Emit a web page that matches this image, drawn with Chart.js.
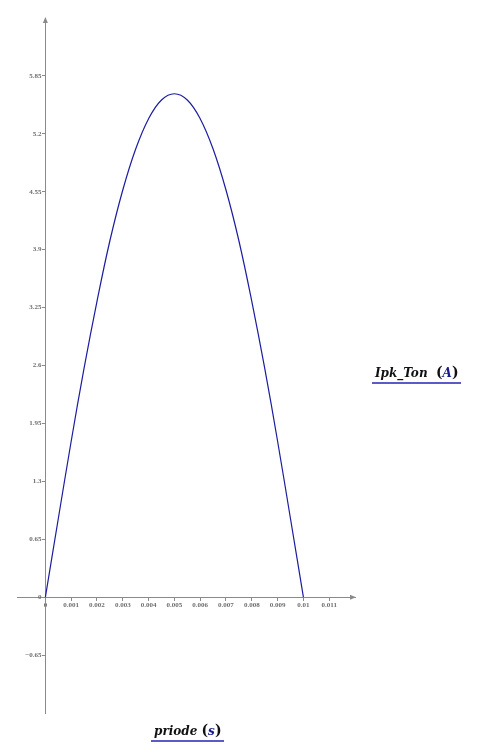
<!DOCTYPE html>
<html>
<head>
<meta charset="utf-8">
<script src="https://cdn.jsdelivr.net/npm/chart.js@4.4.1/dist/chart.umd.min.js"></script>
<style>
  html, body { margin: 0; padding: 0; background: #fff; }
  #wrap { position: relative; width: 478px; height: 748px; }
  .ttl {
    position: absolute;
    font-family: "DejaVu Serif", serif;
    font-style: italic; font-weight: bold; font-size: 12px;
    color: #111; border-bottom: 2px solid #5a5ac8; padding: 0 2px 2px 3px;
    white-space: nowrap;
  }
  .ttl span { font-style: normal; font-size: 14px; }
  .ttl b { color: #1a1a8c; }
</style>
</head>
<body>
<div id="wrap">
  <canvas id="plot" width="478" height="748"></canvas>
  <div class="ttl" style="left:372px; top:364px;">Ipk_Ton&nbsp; <span>(</span><b>A</b><span>)</span></div>
  <div class="ttl" style="left:151px; top:722px;">priode&nbsp;<span>(</span><b>s</b><span>)</span></div>
</div>
<script>
// time (s) and current
var periode = [0, 0.0005, 0.001, 0.0015, 0.002, 0.0025, 0.003, 0.0035, 0.004, 0.0045, 0.005,
               0.0055, 0.006, 0.0065, 0.007, 0.0075, 0.008, 0.0085, 0.009, 0.0095, 0.01];
var ipkTon = [0, 0.88, 1.75, 2.57, 3.32, 4.0, 4.57, 5.03, 5.37, 5.58, 5.65,
              5.58, 5.37, 5.03, 4.57, 4.0, 3.32, 2.57, 1.75, 0.88, 0];

var xTicks = [0, 0.001, 0.002, 0.003, 0.004, 0.005, 0.006, 0.007, 0.008, 0.009, 0.01, 0.011];
var yTicks = [-0.65, 0, 0.65, 1.3, 1.95, 2.6, 3.25, 3.9, 4.55, 5.2, 5.85];

var axisGrey = '#8a8a8a';
var tickFont = { family: 'Liberation Serif', size: 7, weight: 'bold' };

function yLabel(v) { return v < 0 ? '\u2212' + String(-v) : String(v); }

// arrow heads on the axes, and the y tick labels to the left of the axis
var axisExtras = {
  id: 'axisExtras',
  afterDraw: function(chart) {
    var c = chart.ctx, a = chart.chartArea;
    var ys = chart.scales.y;
    var y0 = ys.getPixelForValue(0);
    var x0 = chart.scales.x.getPixelForValue(0);
    c.save();
    c.fillStyle = axisGrey;
    c.beginPath();
    c.moveTo(a.right + 1, y0); c.lineTo(a.right - 5, y0 - 2.5); c.lineTo(a.right - 5, y0 + 2.5);
    c.closePath(); c.fill();
    c.beginPath();
    c.moveTo(x0, a.top - 1); c.lineTo(x0 - 2.5, a.top + 5); c.lineTo(x0 + 2.5, a.top + 5);
    c.closePath(); c.fill();

    c.fillStyle = '#6e6e6e';
    c.font = 'bold 7px "Liberation Serif"';
    c.textAlign = 'right';
    c.textBaseline = 'middle';
    yTicks.forEach(function(v) {
      c.fillText(yLabel(v), x0 - 4, ys.getPixelForValue(v));
    });
    c.restore();
  }
};

var ctx = document.getElementById('plot');
var chart = new Chart(ctx, {
  type: 'line',
  data: {
    datasets: [{
      data: periode.map(function(t, i) { return { x: t, y: ipkTon[i] }; }),
      borderColor: '#1c1ca0',
      borderWidth: 1.2,
      pointRadius: 0,
      tension: 0.4,
      fill: false
    }]
  },
  options: {
    responsive: false,
    animation: false,
    layout: { padding: { left: 17, right: 123, top: 18, bottom: 35 } },
    plugins: { legend: { display: false }, tooltip: { enabled: false } },
    scales: {
      x: {
        type: 'linear',
        min: -0.0011, max: 0.012,
        position: { y: 0 },
        afterBuildTicks: function(s) { s.ticks = xTicks.map(function(v) { return { value: v }; }); },
        ticks: {
          font: tickFont, color: '#6e6e6e', padding: 1, maxRotation: 0, autoSkip: false,
          callback: function(v) { return String(v); }
        },
        grid: { drawOnChartArea: false, color: axisGrey, tickLength: 3 },
        border: { color: axisGrey, width: 1 }
      },
      y: {
        type: 'linear',
        min: -1.3, max: 6.5,
        position: { x: 0 },
        afterBuildTicks: function(s) { s.ticks = yTicks.map(function(v) { return { value: v }; }); },
        ticks: { display: false },
        grid: { drawOnChartArea: false, color: axisGrey, tickLength: 3 },
        border: { color: axisGrey, width: 1 }
      }
    }
  },
  plugins: [axisExtras]
});
</script>
</body>
</html>
